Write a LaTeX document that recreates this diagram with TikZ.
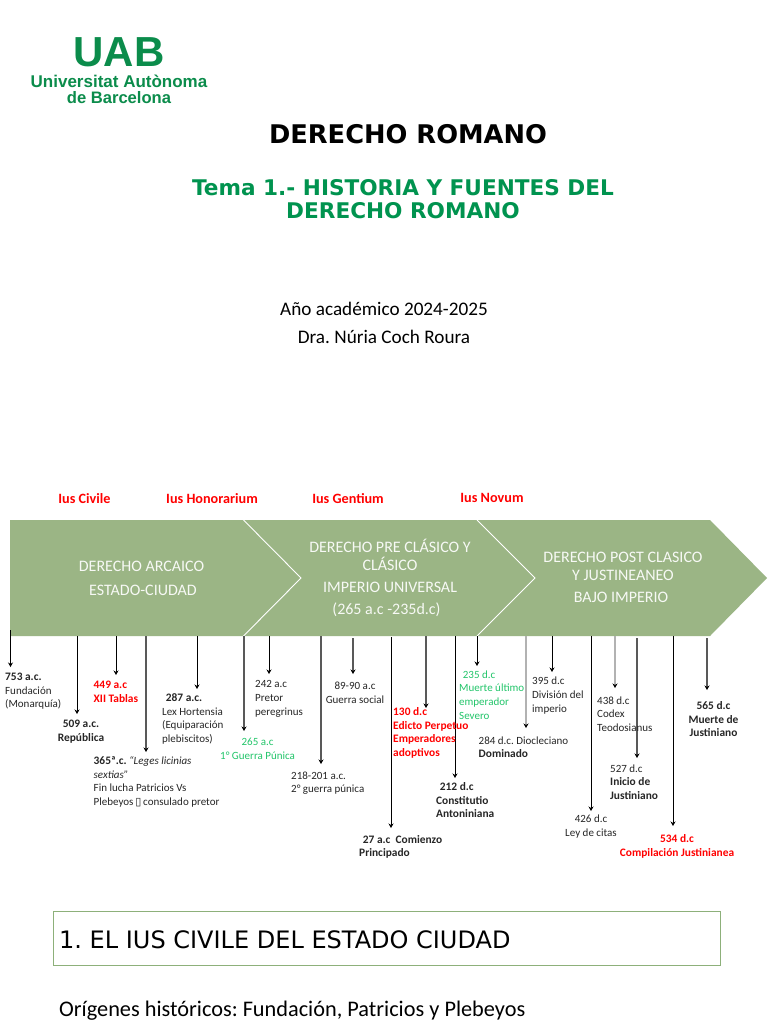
\documentclass[tikz,border=0pt]{standalone}
\usepackage{fontspec}
\setmainfont{Carlito}
\newfontfamily\djv{DejaVu Sans}
\newfontfamily\lib{Liberation Sans}
\usetikzlibrary{arrows.meta}
\frenchspacing
\definecolor{uabgreen}{HTML}{0B8C4B}
\definecolor{titlegreen}{HTML}{00934F}
\definecolor{bandgreen}{HTML}{9BB585}
\definecolor{ltgreen}{HTML}{22C56A}
\definecolor{boxgreen}{HTML}{8DB07A}
\definecolor{txt}{HTML}{262626}
\newcommand{\fsz}[2]{\fontsize{#1}{#2}\selectfont}
\newcommand{\bb}[1]{{\bfseries\fontsize{11.4}{13.6}\selectfont #1}}
\tikzset{
  lab/.style={inner sep=0pt,anchor=north west,align=left,font=\fsz{11}{13.6},text=txt},
  labc/.style={lab,align=center,anchor=north},
  redlab/.style={text=red},
  grlab/.style={text=ltgreen},
  bandtxt/.style={inner sep=0pt,align=center,text=white!92!bandgreen,font=\fsz{16}{18}},
  ius/.style={inner sep=0pt,text=red,font=\bfseries\fsz{14.2}{15}},
  tick/.style={draw=black,line width=0.9pt,-{Stealth[length=4.5pt,width=5pt,color=black,fill=black]}},
  tickg/.style={tick,draw=black!65,line width=1.2pt},
  tickl/.style={tick,draw=black!30,line width=1.2pt},
}
\begin{document}
\begin{tikzpicture}[x=1pt,y=-1pt]
\useasboundingbox (0,0) rectangle (768,1024);
\fill[white] (0,0) rectangle (768,1024);
% logo
\node[inner sep=0pt,text=uabgreen,font=\lib\bfseries\fsz{42}{42}] (uab) at (119,52) {UAB};
\node[inner sep=0pt,text=uabgreen,font=\lib\bfseries\fsz{17}{17}] (uni) at (119,81) {Universitat Autònoma};
\node[inner sep=0pt,text=uabgreen,font=\lib\bfseries\fsz{16.6}{17}] (bar) at (119,98) {de Barcelona};
% titles
\node[inner sep=0pt,font=\djv\bfseries\fsz{25.7}{28}] (title) at (408,134.5) {DERECHO ROMANO};
\node[inner sep=0pt,align=center,text=titlegreen,font=\djv\bfseries\fsz{21.6}{23.5}] (sub) at (403,199) {Tema 1.- HISTORIA Y FUENTES DEL\\DERECHO ROMANO};
\node[inner sep=0pt,font=\fsz{19.2}{19}] (anio) at (384,309) {Año académico 2024-2025};
\node[inner sep=0pt,font=\fsz{19.2}{19}] (dra) at (384,337) {Dra. Núria Coch Roura};
% ius
\node[ius] (i1) at (84.5,498.5) {Ius Civile};
\node[ius] (i2) at (212,498.5) {Ius Honorarium};
\node[ius] (i3) at (348,498.5) {Ius Gentium};
\node[ius] (i4) at (492,497.5) {Ius Novum};
% band
\fill[bandgreen] (10,520) -- (710,520) -- (767,578) -- (710,636) -- (10,636) -- cycle;
\draw[white,line width=0.9pt] (243.5,520) -- (301,578) -- (243.5,636);
\draw[white,line width=0.9pt] (477,520) -- (535,578) -- (477,636);
\node[bandtxt] (b1a) at (141.5,566) {DERECHO ARCAICO};
\node[bandtxt] (b1b) at (143,590) {ESTADO-CIUDAD};
\node[bandtxt] (b2a) at (390,555) {DERECHO PRE CLÁSICO Y\\CLÁSICO};
\node[bandtxt] (b2b) at (390,587) {IMPERIO UNIVERSAL};
\node[bandtxt] (b2c) at (386.5,609.5) {(265 a.c -235d.c)};
\node[bandtxt] (b3a) at (623,566) {DERECHO POST CLASICO\\Y JUSTINEANEO};
\node[bandtxt] (b3b) at (621,597.5) {BAJO IMPERIO};
% arrows
\foreach \n/\x/\ya/\yb/\st in {
 a/10.5/630/667/tick, b/77/636/714/tick, c/116/636/675/tick, d/146/636/752/tickg,
 e/197/636/689/tick, f/244/636/731/tickg, g/269/636/674/tick, h/321/636/764/tickg,
 i/353/638/674/tickg, j/391/637/828/tick, k/426/636/708/tickg, l/455/636/778/tick,
 m/477/636/666/tick, n/526/636/728/tickl, o/552/636/672/tick, p/591/636/811/tick,
 q/615/636/688/tickl, r/637/638/758/tickg, s/673/636/826/tick, t/707/638/690/tickg}{
  \coordinate (s\n) at (\x,\ya);
  \coordinate (e\n) at (\x,\yb);
  \draw[\st] (s\n) -- (e\n);
}
% labels
\node[lab] (la) at (5,673) {\bb{753 a.c.}\\Fundación\\(Monarquía)};
\node[labc] (lb) at (81,720) {\bb{509 a.c.}\\\bb{República}};
\node[lab,redlab] (lc) at (93.5,681) {\bb{449 a.c}\\\bb{XII Tablas}};
\node[lab] (ld) at (93.5,756.5) {\bb{365ª.c.} \textit{“Leges licinias}\\\textit{sextias”}\\Fin lucha Patricios Vs\\Plebeyos\,{\djv\fsz{11}{13.6}▯}\,consulado pretor};
\node[lab] (le) at (162,693.5) {\,\,\bb{287 a.c.}\\Lex Hortensia\\(Equiparación\\plebiscitos)};
\node[lab,grlab,align=center] (lf) at (220,738) {265 a.c\\1° Guerra Púnica};
\node[lab] (lg) at (255,680.5) {242 a.c\\Pretor\\peregrinus};
\node[lab] (lh) at (291,771.5) {218-201 a.c.\\2° guerra púnica};
\node[labc] (li) at (355,682) {89-90 a.c\\Guerra social};
\node[lab,align=left] (lj) at (359,835) {\,\,\bb{27 a.c\ \ Comienzo}\\\bb{Principado}};
\node[lab,redlab] (lk) at (393,707.5) {\bb{130 d.c}\\\bb{Edicto Perpetuo}\\\bb{Emperadores}\\\bb{adoptivos}};
\node[lab] (ll) at (436,782.5) {\,\,\bb{212 d.c}\\\bb{Constitutio}\\\bb{Antoniniana}};
\node[lab,grlab] (lm) at (459,670.5) {\,\,235 d.c\\Muerte último\\emperador\\Severo};
\node[lab] (ln) at (478.5,736.5) {284 d.c. Diocleciano\\\bb{Dominado}};
\node[lab] (lo) at (532,677) {395 d.c\\División del\\imperio};
\node[labc] (lp) at (591,815) {426 d.c\\Ley de citas};
\node[lab] (lq) at (597,696.5) {438 d.c\\Codex\\Teodosianus};
\node[lab] (lr) at (610,764.5) {527 d.c\\\bb{Inicio de}\\\bb{Justiniano}};
\node[labc,redlab] (ls) at (677,834.5) {\bb{534 d.c}\\\bb{Compilación Justinianea}};
\node[labc] (lt) at (713.5,701.5) {\bb{565 d.c}\\\bb{Muerte de}\\\bb{Justiniano}};
% bottom
\node[draw=boxgreen,line width=0.8pt,minimum width=667pt,minimum height=54pt,anchor=north west,inner sep=0pt] (box) at (53,911) {};
\node[inner sep=0pt,anchor=west,font=\djv\fsz{24}{28}] (boxt) at (59,939.5) {1. EL IUS CIVILE DEL ESTADO CIUDAD};
\node[inner sep=0pt,anchor=west,font=\fsz{22.3}{24}] (orig) at (59,1011) {Orígenes históricos: Fundación, Patricios y Plebeyos};
\end{tikzpicture}
\end{document}
